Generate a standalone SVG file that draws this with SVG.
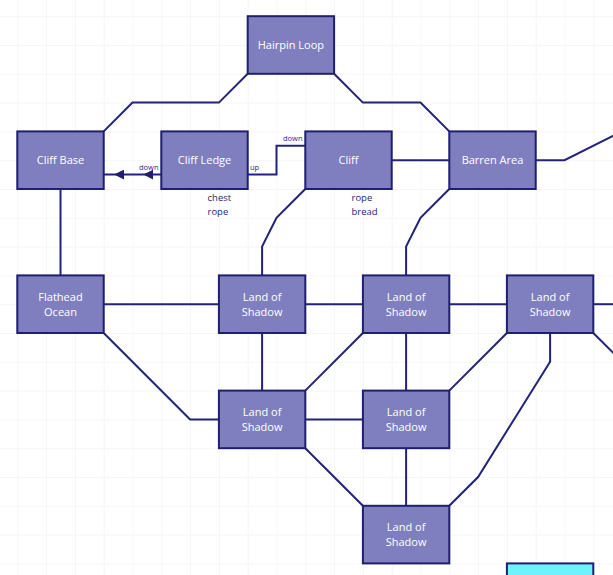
<svg xmlns="http://www.w3.org/2000/svg" width="613" height="575" viewBox="0 0 613 575">
<defs>
<pattern id="grid" x="17.3" y="16.2" width="28.8" height="28.8" patternUnits="userSpaceOnUse">
<path d="M0,0 H28.8 M0,0 V28.8" fill="none" stroke="#eeeeee" stroke-width="1"/>
</pattern>
<marker id="arr" viewBox="0 0 10 10" refX="10" refY="5" markerWidth="10" markerHeight="10" markerUnits="userSpaceOnUse" orient="auto">
<path d="M0,0 L10,5 L0,10 Z" fill="#1f1f6f"/>
</marker>
<style>
.node rect{fill:#7f7fbf;stroke:#1f1f6f;stroke-width:2}
.node text{fill:#ffffff;font-family:"Open Sans","Noto Sans",sans-serif;font-size:11px;text-anchor:middle}
.edges path{fill:none;stroke:#22227a;stroke-width:2}
.lbl{fill:#1f1f8f;font-family:"Open Sans","Noto Sans",sans-serif;font-size:7.5px}
.note{fill:#1f1f6f;font-family:"Open Sans","Noto Sans",sans-serif;font-size:9.5px}
</style>
</defs>
<rect width="613" height="575" fill="#ffffff"/>
<rect width="613" height="575" fill="url(#grid)"/>
<g id="connectors" class="edges">
<path d="M247.7,73.8 L218.9,102.6 L132.5,102.6 L103.7,131.4"/>
<path d="M334.1,73.8 L362.9,102.6 L420.5,102.6 L449.3,131.4"/>
<path d="M161.3,174.6 L143.3,174.6 L114,174.6 L103.7,174.6" marker-mid="url(#arr)"/>
<path d="M247.7,174.6 L276.5,174.6 L276.5,145.8 L305.3,145.8"/>
<path d="M391.7,160.2 L449.3,160.2"/>
<path d="M535.7,160.2 L564.5,160.2 L622.1,131.4"/>
<path d="M305.3,189 L276.5,217.8 L262.1,246.6 L262.1,275.4"/>
<path d="M449.3,189 L420.5,217.8 L406.1,246.6 L406.1,275.4"/>
<path d="M60.5,189 L60.5,275.4"/>
<path d="M103.7,304.2 L218.9,304.2"/>
<path d="M103.7,333 L190.1,419.4 L218.9,419.4"/>
<path d="M305.3,304.2 L362.9,304.2"/>
<path d="M449.3,304.2 L506.9,304.2"/>
<path d="M593.3,304.2 L622,304.2"/>
<path d="M593.3,333 L622.1,361.8"/>
<path d="M506.9,333 L449.3,390.6"/>
<path d="M550.1,333 L550.1,361.8 L478.1,477 L449.3,505.8"/>
<path d="M262.1,333 L262.1,390.6"/>
<path d="M362.9,333 L305.3,390.6"/>
<path d="M406.1,333 L406.1,390.6"/>
<path d="M305.3,419.4 L362.9,419.4"/>
<path d="M305.3,448.2 L362.9,505.8"/>
<path d="M406.1,448.2 L406.1,505.8"/>
<text class="lbl" x="139" y="170">down</text>
<text class="lbl" x="250" y="170">up</text>
<text class="lbl" x="283" y="141">down</text>
<text class="note" x="207.5" y="201">chest</text>
<text class="note" x="207.5" y="215">rope</text>
<text class="note" x="351.5" y="201">rope</text>
<text class="note" x="351.5" y="215">bread</text>
</g>
<g id="hairpin-loop" class="node"><rect x="247.7" y="16.2" width="86.4" height="57.6"/><text x="290.9" y="49">Hairpin Loop</text></g>
<g id="cliff-base" class="node"><rect x="17.3" y="131.4" width="86.4" height="57.6"/><text x="60.5" y="164">Cliff Base</text></g>
<g id="cliff-ledge" class="node"><rect x="161.3" y="131.4" width="86.4" height="57.6"/><text x="204.5" y="164">Cliff Ledge</text></g>
<g id="cliff" class="node"><rect x="305.3" y="131.4" width="86.4" height="57.6"/><text x="348.5" y="164">Cliff</text></g>
<g id="barren-area" class="node"><rect x="449.3" y="131.4" width="86.4" height="57.6"/><text x="492.5" y="164">Barren Area</text></g>
<g id="flathead-ocean" class="node"><rect x="17.3" y="275.4" width="86.4" height="57.6"/><text x="60.5" y="301">Flathead</text><text x="60.5" y="316">Ocean</text></g>
<g id="land-of-shadow-1" class="node"><rect x="218.9" y="275.4" width="86.4" height="57.6"/><text x="262.1" y="301">Land of</text><text x="262.1" y="316">Shadow</text></g>
<g id="land-of-shadow-2" class="node"><rect x="362.9" y="275.4" width="86.4" height="57.6"/><text x="406.1" y="301">Land of</text><text x="406.1" y="316">Shadow</text></g>
<g id="land-of-shadow-3" class="node"><rect x="506.9" y="275.4" width="86.4" height="57.6"/><text x="550.1" y="301">Land of</text><text x="550.1" y="316">Shadow</text></g>
<g id="land-of-shadow-4" class="node"><rect x="218.9" y="390.6" width="86.4" height="57.6"/><text x="262.1" y="416">Land of</text><text x="262.1" y="431">Shadow</text></g>
<g id="land-of-shadow-5" class="node"><rect x="362.9" y="390.6" width="86.4" height="57.6"/><text x="406.1" y="416">Land of</text><text x="406.1" y="431">Shadow</text></g>
<g id="land-of-shadow-6" class="node"><rect x="362.9" y="505.8" width="86.4" height="57.6"/><text x="406.1" y="531">Land of</text><text x="406.1" y="546">Shadow</text></g>
<g id="cyan-node"><rect x="506.9" y="563.4" width="86.4" height="57.6" fill="#6cf4fa" stroke="#1f1f6f" stroke-width="2"/></g>
</svg>
